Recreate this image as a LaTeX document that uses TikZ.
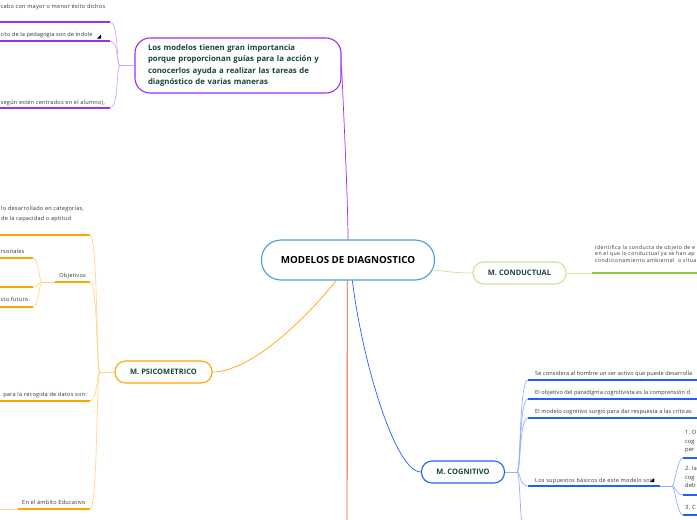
\documentclass[tikz,border=0pt]{standalone}
\usepackage{fontspec}
\setmainfont{Open Sans}
\usepackage{xcolor}
\usetikzlibrary{shapes,arrows}
\definecolor{purp}{HTML}{A02EF0}
\definecolor{purplt}{HTML}{D8A6FF}
\definecolor{orng}{HTML}{FFA500}
\definecolor{orglt}{HTML}{FFD589}
\definecolor{grn}{HTML}{8CCB3F}
\definecolor{grnlt}{HTML}{C6E79A}
\definecolor{blu}{HTML}{2160FF}
\definecolor{blult}{HTML}{93AEFF}
\definecolor{rootblu}{HTML}{4A9BDB}
\definecolor{redl}{HTML}{E8553F}
\definecolor{txtgrn}{HTML}{16463A}
\definecolor{txtgry}{HTML}{333333}

\begin{document}
\begin{tikzpicture}[x=1pt,y=-1pt,
    topic/.style={draw, line width=1.1pt, fill=white, text=txtgrn, inner sep=0pt,
        font=\bfseries\fontsize{7.5}{8}\selectfont},
    leaf/.style={text=txtgry, inner sep=0pt, font=\fontsize{5.6}{7}\selectfont\addfontfeature{LetterSpace=4}},
    tightleaf/.style={leaf, font=\fontsize{5.6}{7}\selectfont\addfontfeature{LetterSpace=1.5}},
    subleaf/.style={leaf, align=left, font=\fontsize{5.8}{8.5}\selectfont},
    branch/.style={line width=0.7pt},
    uline/.style={line width=1.4pt}]
	\useasboundingbox (0,0) rectangle (697,520);
	\clip (0,0) rectangle (697,520);
	\node[topic, draw=rootblu, text=black, minimum width=173pt, minimum height=40pt, rounded corners=19.5pt,
        font=\bfseries\fontsize{9.8}{11}\selectfont] (root) at (348,260) {MODELOS DE DIAGNOSTICO};
	\node[topic, draw=purp, minimum width=206pt, minimum height=55pt, text width=180pt, align=left, rounded corners=15pt,
        font=\bfseries\fontsize{7.8}{11.2}\selectfont] (imp) at (238,65.5) {Los modelos tienen gran importancia\\ porque proporcionan guías para la acción y\\ conocerlos ayuda a realizar las tareas de\\ diagnóstico de varias maneras};
	\node[topic, draw=orng, minimum width=97pt, minimum height=22pt, rounded corners=10.5pt] (psico) at (163.5,372) {M. PSICOMETRICO};
	\node[topic, draw=grnlt, minimum width=93pt, minimum height=22pt, rounded corners=10.5pt] (cond) at (519.5,273) {M. CONDUCTUAL};
	\node[topic, draw=blu, minimum width=83pt, minimum height=22pt, rounded corners=10.5pt] (cog) at (463,472) {M. COGNITIVO};
	% main branches
	\coordinate (rootdown) at (347,520);
	\draw[purp, branch] (imp.east) .. controls (343,100) and (348,200) .. (root.north);
	\draw[orng, branch] (root.240) .. controls (305,320) and (250,372) .. (psico.east);
	\draw[redl, line width=0.9pt] (root.268) -- (rootdown);
	\draw[blu, branch] (root.282) .. controls (362,360) and (395,472) .. (cog.west);
	\draw[grnlt, branch] ([xshift=-3pt,yshift=-10pt]root.east) .. controls +(20,2) and +(-15,0) .. (cond.west);
	% purple
	\coordinate (impfork) at (120,65.5);
	\draw[purplt, branch] (imp.west) -- (impfork);
	\foreach \n/\y in {a/22,b/41,c/108} {
		\coordinate (imp\n) at (110,\y);
		\coordinate (imp\n end) at (0,\y);
		\draw[purplt, branch] (impfork) .. controls +(-4,0) and +(9,0) .. (imp\n);
		\draw[purp, uline] (imp\n) -- (imp\n end);
	}
	\node[leaf, anchor=base west] (impatx) at (0.5,8) {cabo con mayor o menor éxito dichos};
	\node[leaf, anchor=base west, font=\fontsize{5.6}{7}\selectfont\addfontfeature{LetterSpace=2}] (impbtx) at (0.5,36.5) {cito de la pedagogía son de índole};
	\node[leaf, anchor=base west] (impctx) at (0.5,104) {según estén centrados en el alumno),};
	\fill[black] (97,38.5) -- (101,38.5) -- (101,34.5) -- cycle;
	% orange
	\coordinate (psfork) at (100,372);
	\draw[orglt, branch] (psico.west) -- (psfork);
	\foreach \n/\y/\xl in {a/235/0,b/282/55,c/401/0,d/509/18} {
		\coordinate (ps\n) at (90,\y);
		\coordinate (ps\n end) at (\xl,\y);
		\draw[orglt, branch] (psfork) .. controls +(-4,0) and +(8,0) .. (ps\n);
		\draw[orng, uline] (ps\n) -- (ps\n end);
	}
	\coordinate (objfork) at (42,282);
	\coordinate (psdx) at (0,509);
	\draw[orglt, branch] (psbend) -- (objfork);
	\draw[orglt, branch] (psdend) -- (psdx);
	\foreach \n/\y in {a/258,b/287,c/307} {
		\coordinate (obj\n) at (33,\y);
		\coordinate (obj\n end) at (0,\y);
		\draw[orglt, branch] (objfork) .. controls +(-3,0) and +(6,0) .. (obj\n);
		\draw[orng, uline] (obj\n) -- (obj\n end);
	}
	\node[leaf, anchor=north west, align=left, font=\fontsize{5.6}{9.5}\selectfont\addfontfeature{LetterSpace=4}] (psatx) at (1,206.5) {lo desarrollado en categorías,\\ de la capacidad o aptitud};
	\node[leaf, anchor=base east] (psbtx) at (86,277) {Objetivos};
	\node[leaf, anchor=base west] (objatx) at (0.5,253) {rsonales};
	\node[leaf, anchor=base west] (objctx) at (0.5,301) {sto futuro.};
	\node[leaf, anchor=base east] (psctx) at (87,396.5) {para la recogida de datos son:};
	\node[leaf, anchor=base west] (psdtx) at (22,504) {En el ámbito Educativo};
	% green
	\coordinate (conda) at (592,273);
	\coordinate (condend) at (700,273);
	\draw[grnlt, branch] (cond.east) -- (conda);
	\draw[grn, uline] (conda) -- (condend);
	\node[leaf, anchor=north west, align=left, font=\fontsize{5.2}{6.3}\selectfont\addfontfeature{LetterSpace=8}] (condatx) at (595,245.5) {Identifica la conducta de objeto de e\\ en el que lo conductual ya se han ap\\ condicionamiento ambiental~ o situa};
	% blue
	\coordinate (cgfork) at (517,472);
	\draw[blult, branch] (cog.east) -- (cgfork);
	\foreach \n/\y/\xr in {a/380/700,b/399/700,c/418/700,d/486/660,e/545/700} {
		\coordinate (cg\n) at (528,\y);
		\coordinate (cg\n end) at (\xr,\y);
		\draw[blult, branch] (cgfork) .. controls +(4,0) and +(-9,0) .. (cg\n);
		\draw[blu, uline] (cg\n) -- (cg\n end);
	}
	\node[tightleaf, anchor=base west] (cgatx) at (535,375.5) {Se considera al hombre un ser activo que puede desarrolla};
	\node[tightleaf, anchor=base west] (cgbtx) at (535,394.5) {El objetivo del paradigma cognitivista es la comprensión d};
	\node[tightleaf, anchor=base west] (cgctx) at (535,413.5) {El modelo cognitivo surgió para dar respuesta a las críticas};
	\node[leaf, anchor=base west] (cgdtx) at (535,482) {Los supuestos básicos de este modelo son:};
	\fill[black] (650,482) -- (654,482) -- (654,478) -- cycle;
	\coordinate (supfork) at (672,486);
	\draw[blult, branch] (cgdend) -- (supfork);
	\foreach \n/\y in {a/458,b/495,c/515} {
		\coordinate (sup\n) at (683,\y);
		\coordinate (sup\n end) at (700,\y);
		\draw[blult, branch] (supfork) .. controls +(3,0) and +(-6,0) .. (sup\n);
		\draw[blu, uline] (sup\n) -- (sup\n end);
	}
	\node[subleaf, anchor=north west] (supatx) at (685,430.5) {1. D\\ cog\\ per};
	\node[subleaf, anchor=north west] (supbtx) at (685,466) {2. la\\ cog\\ deb};
	\node[subleaf, anchor=base west] (supctx) at (685,509.5) {3. C};
\end{tikzpicture}
\end{document}
